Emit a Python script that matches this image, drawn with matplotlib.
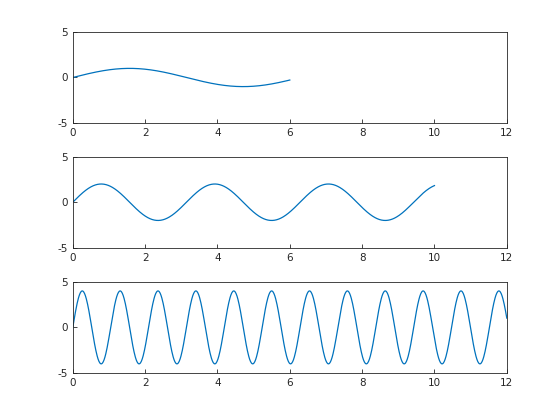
import numpy as np
import matplotlib
matplotlib.use("Agg")
import matplotlib.pyplot as plt

BLUE = "#0072BD"
# each panel: (x end, amplitude, angular frequency)
x_ends = [6, 10, 12]
amps = [1, 2, 4]
freqs = [1, 2, 6]
xticks = [0, 2, 4, 6, 8, 10, 12]
yticks = [-5, 0, 5]

plt.rcParams.update({"font.family": "DejaVu Sans", "font.size": 7.5,
                     "axes.unicode_minus": False,
                     "xtick.direction": "in", "ytick.direction": "in",
                     "axes.linewidth": 0.6, "xtick.major.width": 0.6,
                     "ytick.major.width": 0.6, "xtick.major.size": 3,
                     "ytick.major.size": 3})

fig = plt.figure(figsize=(5.6, 4.2), dpi=100)
bottoms = [0.707, 0.410, 0.112]
for b, xe, a, f in zip(bottoms, x_ends, amps, freqs):
    ax = fig.add_axes([0.130, b, 0.775, 0.217])
    x = np.linspace(0, xe, 1000)
    ax.plot(x, a * np.sin(f * x), color=BLUE, lw=0.9)
    ax.set_xlim(0, 12)
    ax.set_ylim(-5, 5)
    ax.set_xticks(xticks)
    ax.set_yticks(yticks)
    for s in ax.spines.values():
        s.set_color("#262626")
    ax.tick_params(colors="#262626")

fig.savefig("out.png")
